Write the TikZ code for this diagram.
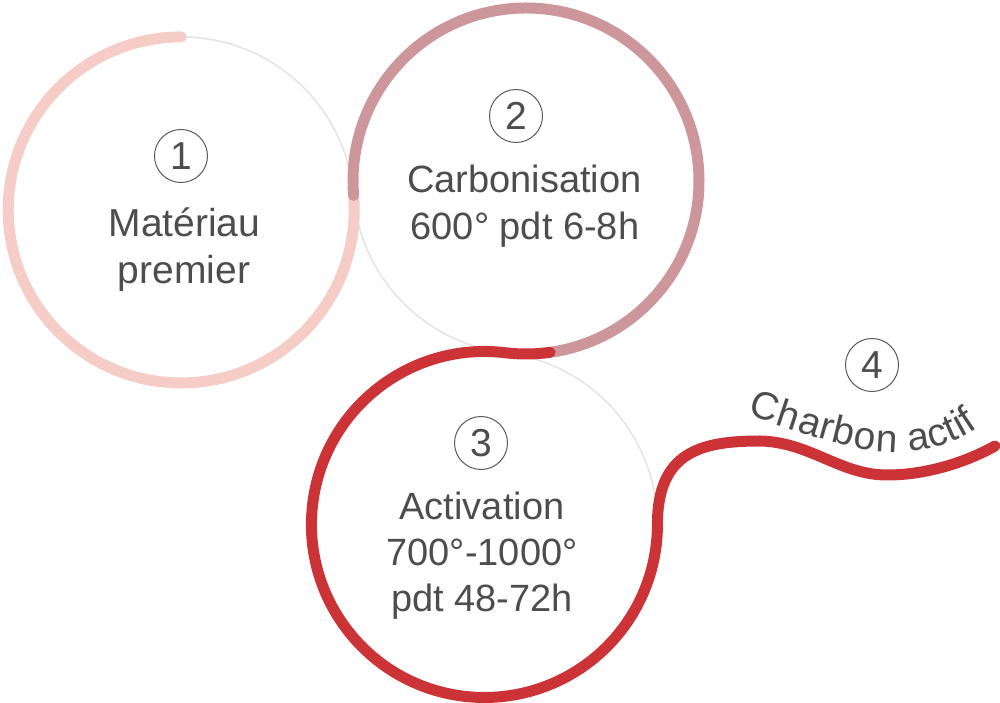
\documentclass[tikz,border=0pt]{standalone}
\usepackage{fontspec}
\setmainfont{Liberation Sans}
\usetikzlibrary{calc,decorations.text}

\definecolor{ringgray}{HTML}{E3E3E3}
\definecolor{pinkband}{HTML}{F5CCC6}
\definecolor{roseband}{HTML}{CC969A}
\definecolor{redband}{HTML}{CC3336}
\definecolor{txtgray}{HTML}{4D4D4D}
\definecolor{numgray}{HTML}{595959}

\tikzset{
  ring/.style={draw=ringgray, line width=1.5pt},
  band/.style={line width=11pt, line cap=round},
  numbox/.style={circle, draw=numgray, line width=1pt, minimum size=53pt, inner sep=0pt, text=txtgray, font=\fontsize{39}{40}\selectfont},
  lbl/.style={anchor=base, text=txtgray, inner sep=0pt, font=\fontsize{38}{46}\selectfont},
}

\begin{document}
\begin{tikzpicture}[x=1pt,y=1pt]
\useasboundingbox (0,0) rectangle (1000,703);
\coordinate (c2) at (526,522);
\coordinate (c1) at ($(c2)+(184.8:346)$);
\coordinate (c3) at ($(c2)+(263.1:346)$);
\draw[ring] (c1) circle[radius=173];
\draw[ring] (c2) circle[radius=173];
\draw[ring] (c3) circle[radius=173];
% coloured bands
\draw[band, pinkband] ($(c1)+(90:173)$) arc[start angle=90, end angle=364.8, radius=173];
\draw[band, roseband] ($(c2)+(184.8:173)$) arc[start angle=184.8, end angle=-82, radius=173];
\draw[band, redband] ($(c2)+(-82:173)$) arc[start angle=-82, end angle=-96.9, radius=173]
  arc[start angle=83.1, end angle=360, radius=173] coordinate (s0)
  .. controls +(0,72) and (700,262) .. (760,262)
  .. controls (810,261) and (840,228) .. (887,228)
  .. controls (930,228) and (970,243) .. (995,257) coordinate (s1);
% numbers
\node[numbox] (n1) at (181,547) {1};
\node[numbox] (n2) at (516,587) {2};
\node[numbox] (n3) at (481,260) {3};
\node[numbox] (n4) at (872,338) {4};
% texts
\node[lbl, font=\fontsize{39}{46}\selectfont] (t1a) at (184.5,466.5) {Matériau};
\node[lbl, font=\fontsize{39}{46}\selectfont] (t1b) at (184,419.7) {premier};
\node[lbl] (t2a) at (524.5,510) {Carbonisation};
\node[lbl] (t2b) at (525,463) {600° pdt 6-8h};
\node[lbl] (t3a) at (482,183) {Activation};
\node[lbl] (t3b) at (482,137) {700°-1000°};
\node[lbl] (t3c) at (482,91) {pdt 48-72h};
\path[decorate, decoration={text effects along path, text={Charbon actif},
  text effects/.cd, fit text to path,
  characters={text along path, text=txtgray, font=\fontsize{39}{42}\selectfont}}]
  (747,288) .. controls (800,271) and (848,252) .. (893,251)
  .. controls (935,251) and (962,264) .. (978,276);
\end{tikzpicture}
\end{document}
